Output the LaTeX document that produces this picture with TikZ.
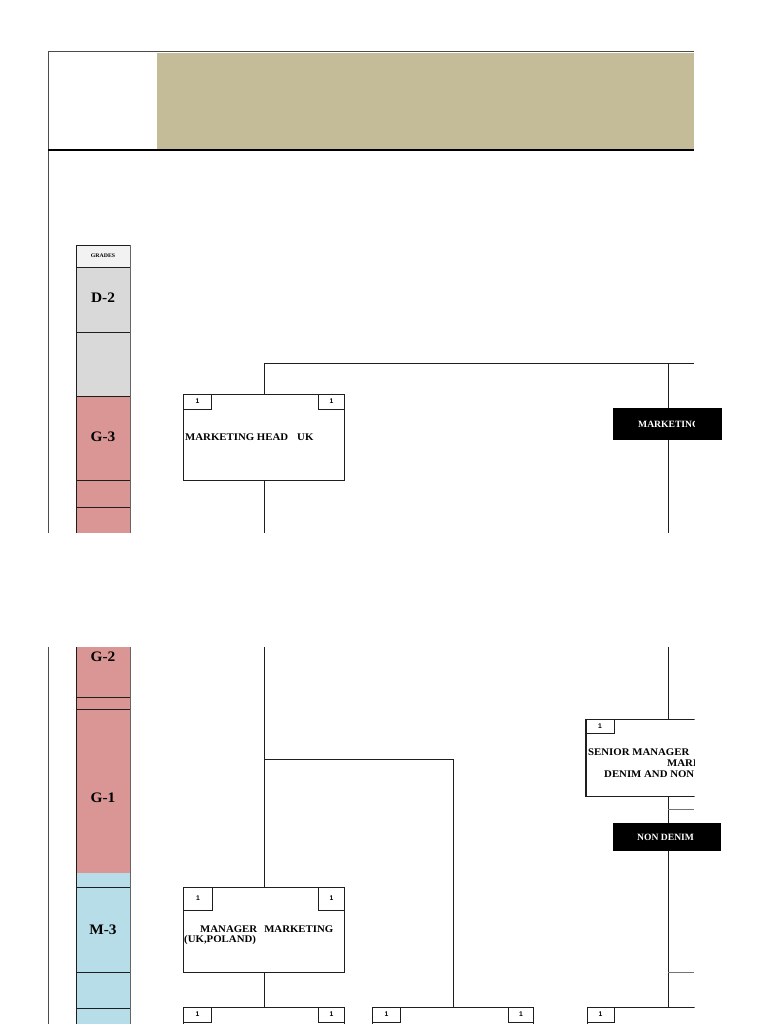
\documentclass[tikz,border=0pt]{standalone}
\usepackage{fontspec}
\setmainfont{Liberation Serif}[FakeStretch=1.06]
\newfontfamily\plainserif{Liberation Serif}
\newfontfamily\tabfont{Liberation Sans}
\definecolor{tanhead}{RGB}{196,188,152}
\definecolor{gpink}{RGB}{217,150,148}
\definecolor{ggray}{RGB}{217,217,217}
\definecolor{gblue}{RGB}{183,222,232}
\definecolor{glight}{RGB}{242,242,242}
\definecolor{lineclr}{RGB}{30,30,30}
\begin{document}
\begin{tikzpicture}[x=1pt,y=-1pt,
  conn/.style={draw=lineclr, line width=1pt},
  stub/.style={draw=black!55, line width=1pt},
  post/.style={draw=lineclr, line width=1pt, fill=white, inner sep=0pt, minimum width=161pt},
  tabbox/.style={draw=lineclr, line width=0.9pt, fill=white, inner sep=0pt, minimum width=28pt, font=\tabfont\bfseries\fontsize{6.8}{6.8}\selectfont},
  lbl/.style={inner sep=0pt, anchor=west, font=\bfseries\fontsize{10.2}{11}\selectfont},
  blk/.style={fill=black, inner sep=0pt},
  blktxt/.style={text=white, inner sep=0pt, anchor=west, font=\plainserif\bfseries\fontsize{9.6}{11}\selectfont},
  grade/.style={inner sep=0pt, font=\bfseries\fontsize{14.5}{14.5}\selectfont},
  band/.style={draw=lineclr, line width=0.9pt}
]
\useasboundingbox (0,0) rectangle (768,1024);
\clip (0,0) rectangle (768,1024);

% ---------- header frame ----------
\fill[tanhead] (157,53) rectangle (694,149);
\draw[draw=black!70, line width=1pt] (48,52) -- (694,52);
\draw[draw=black!70, line width=1pt] (48,52) -- (48,533);
\draw[draw=black!70, line width=1pt] (48,647) -- (48,1024);
\draw[black, line width=2pt] (48,150) -- (694,150);

% ---------- grades column (top part) ----------
\fill[glight] (76,245) rectangle (130,267);
\fill[ggray] (76,267) rectangle (130,396);
\fill[gpink] (76,396) rectangle (130,533);
\foreach \yy in {245,267,332,396,480,507} \draw[band] (76,\yy) -- (130,\yy);
\draw[band] (76,245) -- (76,533);
\draw[band, draw=black!60] (130,245) -- (130,533);
\node[inner sep=0pt, font=\bfseries\fontsize{5.5}{6}\selectfont] (gr) at (103,256) {GRADES};
\node[grade] (d2) at (103,298) {D-2};
\node[grade] (g3) at (103,437) {G-3};

% ---------- grades column (bottom part) ----------
\fill[gpink] (76,647) rectangle (130,873);
\fill[gblue] (76,873) rectangle (130,1024);
\foreach \yy in {697,709,887,972,1008} \draw[band] (76,\yy) -- (130,\yy);
\draw[band] (76,647) -- (76,1024);
\draw[band, draw=black!60] (130,647) -- (130,1024);
\node[grade] (g2) at (103,657) {G-2};
\node[grade] (g1) at (103,798) {G-1};
\node[grade] (m3) at (103,930) {M-3};

% ---------- chart (clipped at right edge) ----------
\begin{scope}
\clip (0,0) rectangle (694.5,1024);

% coordinates
\coordinate (jr) at (694,363);
\coordinate (mhend) at (264,533);
\coordinate (rtop) at (668,363);
\coordinate (rend) at (668,533);
\coordinate (lt) at (264,647);
\coordinate (br) at (264,759);
\coordinate (rt2) at (668,647);
\coordinate (s1) at (668,809);
\coordinate (s1e) at (694,809);
\coordinate (s2) at (668,972);
\coordinate (s2e) at (694,972);

% boxes
\node[post, minimum height=86pt] (mh) at (264,437) {};
\node[post, minimum height=85pt] (mgr) at (264,929.5) {};
\node[post, minimum height=86pt] (b1) at (264,1050) {};
\node[post, minimum height=86pt] (b2) at (453,1050) {};
\node[post, minimum height=86pt, minimum width=162pt] (b3) at (668,1050) {};
\node[post, minimum height=77pt, minimum width=164pt] (sm) at (668,757.5) {};
\draw[lineclr, line width=1.6pt] (sm.north west) -- (sm.south west);

% tabs
\node[tabbox, minimum height=15pt, anchor=north west] (mht1) at (mh.north west) {1};
\node[tabbox, minimum height=15pt, minimum width=26pt, anchor=north east] (mht2) at (mh.north east) {1};
\node[tabbox, minimum height=23pt, minimum width=29pt, anchor=north west] (mgrt1) at (mgr.north west) {1};
\node[tabbox, minimum height=23pt, minimum width=26pt, anchor=north east] (mgrt2) at (mgr.north east) {1};
\node[tabbox, minimum height=15pt, anchor=north west] (b1t1) at (b1.north west) {1};
\node[tabbox, minimum height=15pt, minimum width=26pt, anchor=north east] (b1t2) at (b1.north east) {1};
\node[tabbox, minimum height=15pt, anchor=north west] (b2t1) at (b2.north west) {1};
\node[tabbox, minimum height=15pt, minimum width=25pt, anchor=north east] (b2t2) at (b2.north east) {1};
\node[tabbox, minimum height=15pt, minimum width=27pt, anchor=north west] (b3t1) at (b3.north west) {1};
\node[tabbox, minimum height=14pt, anchor=north west] (smt1) at (sm.north west) {1};

% box texts
\node[lbl] (mhtxt) at (185,437) {MARKETING HEAD\hspace{9pt}UK};
\node[lbl] (mgrtxt1) at (200,929) {MANAGER\hspace{7pt}MARKETING};
\node[lbl] (mgrtxt2) at (184,940) {(UK,POLAND)};
\node[lbl] (smtxt1) at (588,752) {SENIOR MANAGER};
\node[lbl] (smtxt2) at (667,763) {MARKETING};
\node[lbl] (smtxt3) at (604,774) {DENIM AND NON DENIM};

% connectors
\draw[conn] (mh.north) |- (jr);
\draw[conn] (mh.south) -- (mhend);
\draw[conn] (rtop) -- (rend);
\draw[conn] (lt) -- (mgr.north);
\draw[conn] (br) -| (b2.north);
\draw[conn] (mgr.south) -- (b1.north);
\draw[conn] (rt2) -- (sm.north);
\draw[conn] (sm.south) -- (b3.north);
\draw[stub] (s1) -- (s1e);
\draw[stub] (s2) -- (s2e);
\end{scope}

% ---------- black labels (box not clipped, text clipped) ----------
\node[blk, minimum width=109pt, minimum height=32pt] (mk) at (667.5,424) {};
\node[blk, minimum width=108pt, minimum height=28pt] (nd) at (667,837) {};
\begin{scope}
\clip (0,0) rectangle (694,1024);
\node[blktxt] (mktxt) at (638,424) {MARKETING};
\node[blktxt] (ndtxt) at (637,837) {NON DENIM};
\end{scope}
\end{tikzpicture}
\end{document}
